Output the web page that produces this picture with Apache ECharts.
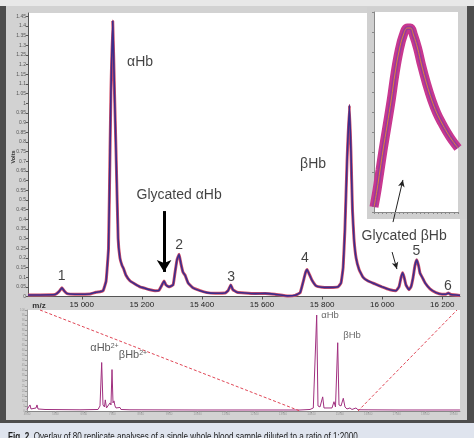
<!DOCTYPE html>
<html><head><meta charset="utf-8">
<script src="https://cdn.jsdelivr.net/npm/echarts@6/dist/echarts.min.js"></script>
<style>html,body{margin:0;padding:0;background:#fff}#c{width:474px;height:438px}</style>
</head><body><div id="c"></div>
<script>
// ---- main (zoomed) spectrum: m/z vs Volts ----
const mainMz = [14821,14861,14911,14924,14934,14941,14951,14977,15027,15047,15061,15071,15081,15089,15094,15097,15103,15109,15114,15121,15127,15134,15139,15147,15161,15177,15194,15211,15227,15244,15257,15267,15274,15280,15290,15304,15310,15317,15324,15330,15337,15344,15354,15370,15394,15417,15444,15477,15487,15496,15503,15517,15543,15577,15610,15643,15687,15710,15727,15736,15745,15750,15756,15766,15780,15800,15826,15853,15863,15870,15876,15883,15891,15896,15901,15906,15913,15923,15936,15953,15976,15999,16026,16046,16056,16063,16068,16073,16079,16089,16096,16103,16109,16115,16121,16126,16133,16143,16159,16179,16199,16213,16220,16229,16259];
const mainVolts = [0.008,0.008,0.01,0.025,0.045,0.03,0.015,0.012,0.013,0.022,0.025,0.03,0.08,0.25,0.75,1.05,1.425,1.05,0.75,0.3,0.2,0.16,0.145,0.11,0.08,0.065,0.05,0.042,0.035,0.03,0.032,0.06,0.08,0.06,0.05,0.06,0.12,0.19,0.218,0.17,0.125,0.11,0.07,0.045,0.03,0.02,0.017,0.018,0.03,0.06,0.035,0.022,0.018,0.015,0.016,0.012,0.003,0.006,0.02,0.07,0.125,0.14,0.12,0.085,0.055,0.048,0.047,0.05,0.07,0.15,0.35,0.7,0.99,0.75,0.45,0.3,0.2,0.14,0.1,0.08,0.065,0.05,0.035,0.03,0.05,0.1,0.123,0.1,0.06,0.035,0.05,0.1,0.16,0.19,0.16,0.12,0.1,0.07,0.04,0.02,0.012,0.012,0.018,0.01,0.005];
const mainTicks = [15000,15200,15400,15600,15800,16000,16200];

// ---- full-range spectrum (bottom panel) ----
const fullMz = [4940,5010,5045,5081,5151,5256,5292,5327,5573,6803,7436,7507,7566,7612,7665,7693,7735,7788,7858,7893,7929,7964,7999,8034,8069,8210,8245,8561,11023,14539,14891,15007,15066,15126,15171,15242,15337,15383,15453,15524,15594,15664,15734,15787,15865,15910,15981,16061,16121,16191,16296,16367,16507,16578,18055,20164];
const fullInt = [1.5,3,6,2,2,3,6,2,1.5,1.2,1.5,5,48,6,4,11,3,2,8,6,41,8,10,5,3,3.5,1.5,1.2,1,1,1.5,3,2,95,5,4,14,3,2,3,2,3,9.2,4,67.6,6,5,12.6,4,2,3,1.5,3,1.2,1,1];

// ---- inset: glycated βHb peak overlay ----
const insetX = [0,3.6,7.2,10.8,15.7,20.5,25.3,30.1,34.9,39.8,43.4,47,51.8,56.6,62.7,68.7,74.7,80.7,86.7,92.8,100];
const insetY = [2.5,11,21,31,43.5,56,70,81,88.5,92,92,88.5,82,73.5,64,56,49.5,44.5,40,36,32];

// ---- annotations ----
const mainLabelText = ['αHb','Glycated αHb','1','2','3','4','βHb','Glycated βHb','5','6'];
const mainLabelMz   = [15194,15324,14933,15324,15497,15743,15770,16073,16114,16219];
const mainLabelV    = [1.213,0.525,0.106,0.266,0.10,0.2,0.685,0.313,0.235,0.054];
const bottomLabelText = ['{b|αHb}{s|2+}','{b|βHb}{s|2+}','{c|αHb}','{c|βHb}'];
const bottomLabelMz   = [7665,8667,15593,16367];
const bottomLabelInt  = [62.4,55.4,95,75.2];
const captionBold = 'Fig. 2';
const captionText = '  Overlay of 80 replicate analyses of a single whole blood sample diluted to a ratio of 1:2000.';

const zip = (a,b)=>a.map((v,i)=>[v,b[i]]);
const chart = echarts.init(document.getElementById('c'));

// fit caption (condensed look) to its width in the reference
const cv = document.createElement('canvas').getContext('2d');
cv.font = 'bold 11px "Liberation Sans"';
let capW = cv.measureText(captionBold).width;
cv.font = '11px "Liberation Sans"';
capW += cv.measureText(captionText).width;
const capScale = 352 / capW;

const option = {
  animation:false,
  backgroundColor:'#e8e8e8',
  graphic:[
    {type:'rect', z:0, z2:1, shape:{x:0,y:0,width:474,height:423}, style:{fill:'#4d4d4d'}},
    {type:'rect', z:0, z2:2, shape:{x:0,y:0,width:474,height:6}, style:{fill:'#e8e8e8'}},
    {type:'rect', z:0, z2:3, shape:{x:6,y:6,width:461,height:414}, style:{fill:'#d2d2d2'}},
    {type:'rect', z:0, z2:4, shape:{x:0,y:423,width:474,height:15}, style:{fill:'#dfe4ee'}},
    {type:'rect', z:1, shape:{x:28,y:13,width:432,height:283.5}, style:{fill:'#ffffff'}},
    {type:'rect', z:1, shape:{x:27,y:310,width:433,height:101}, style:{fill:'#ffffff'}},
    {type:'rect', z:4, shape:{x:367,y:7,width:100,height:212}, style:{fill:'#d0d0d0'}},
    {type:'rect', z:5, shape:{x:374,y:12,width:84,height:200}, style:{fill:'#ffffff'}},
    {type:'text', z:2, x:13, y:157, rotation:Math.PI/2, style:{text:'Volts', fontSize:5.5, fontWeight:'bold', fill:'#333', align:'center', verticalAlign:'middle', fontFamily:'Liberation Sans'}},
    {type:'text', z:2, x:39, y:306, style:{text:'m/z', fontSize:8, fontWeight:'bold', fill:'#333', align:'center', verticalAlign:'middle', fontFamily:'Liberation Sans'}},
    {type:'text', z:2, x:8, y:431, scaleX:capScale, style:{text:'{b|'+captionBold+'}'+captionText, fontSize:11, fill:'#1b1b1b', fontFamily:'Liberation Sans', verticalAlign:'top', rich:{b:{fontSize:11, fontWeight:'bold', fontFamily:'Liberation Sans', fill:'#1b1b1b'}}}}
  ],
  grid:[
    {left:28, top:13, width:432, height:283.5, show:false},
    {left:374, top:12, width:84, height:200, show:false},
    {left:27, top:310, width:433, height:101, show:false}
  ],
  xAxis:[
    {gridIndex:0, type:'value', min:14821, max:16259, z:2,
     axisLine:{lineStyle:{color:'#555'}},
     axisTick:{show:true, customValues:mainTicks, length:3, lineStyle:{color:'#555'}},
     axisLabel:{customValues:mainTicks, fontSize:8, color:'#222', margin:4, fontFamily:'Liberation Sans',
       formatter:v=>String(v).replace(/^(\d{2})(\d{3})$/,'$1 $2')},
     splitLine:{show:false}},
    {gridIndex:1, type:'value', min:0, max:100, interval:5, z:6,
     axisLine:{lineStyle:{color:'#888'}},
     axisTick:{show:true, length:2, lineStyle:{color:'#888'}},
     axisLabel:{show:false}, splitLine:{show:false}},
    {gridIndex:2, type:'value', min:4940, max:20165, interval:1000, z:2,
     axisLine:{lineStyle:{color:'#888'}},
     axisTick:{show:true, length:2, lineStyle:{color:'#999'}},
     axisLabel:{show:true, fontSize:3, color:'#999', margin:2, formatter:v=>Math.round(v)},
     splitLine:{show:false}}
  ],
  yAxis:[
    {gridIndex:0, type:'value', min:0, max:1.4667, interval:0.05, z:2,
     axisLine:{show:true, lineStyle:{color:'#555'}},
     axisTick:{show:true, length:2, lineStyle:{color:'#555'}},
     axisLabel:{fontSize:5, color:'#555', margin:2, showMaxLabel:false, fontFamily:'Liberation Sans'},
     splitLine:{show:false}},
    {gridIndex:1, type:'value', min:0, max:100, interval:10, z:6,
     axisLine:{show:true, lineStyle:{color:'#888'}},
     axisTick:{show:true, length:2, lineStyle:{color:'#888'}},
     axisLabel:{show:false}, splitLine:{show:false}},
    {gridIndex:2, type:'value', min:0, max:100, interval:5, z:2,
     axisLine:{show:true, lineStyle:{color:'#999'}},
     axisTick:{show:true, length:2, lineStyle:{color:'#999'}},
     axisLabel:{fontSize:3, color:'#999', margin:2},
     splitLine:{show:false}}
  ],
  series:[
    {type:'line', xAxisIndex:0, yAxisIndex:0, z:3, data:zip(mainMz,mainVolts), showSymbol:false, smooth:0.1,
     lineStyle:{color:'#d0506a', width:3}, silent:true},
    {type:'line', xAxisIndex:0, yAxisIndex:0, z:3, data:zip(mainMz,mainVolts), showSymbol:false, smooth:0.1,
     lineStyle:{color:'#3c2d8c', width:1.6}, silent:true},
    {type:'line', xAxisIndex:2, yAxisIndex:2, z:3, data:zip(fullMz,fullInt), showSymbol:false,
     lineStyle:{color:'#a0307f', width:1}, silent:true},
    {type:'line', xAxisIndex:1, yAxisIndex:1, z:7, data:zip(insetX,insetY), showSymbol:false, smooth:0.4,
     lineStyle:{color:'#c8378f', width:9}, silent:true},
    {type:'line', xAxisIndex:1, yAxisIndex:1, z:7, data:zip(insetX,insetY), showSymbol:false, smooth:0.4,
     lineStyle:{color:'#7a3aa4', width:4, opacity:0.6}, silent:true},
    {type:'line', xAxisIndex:1, yAxisIndex:1, z:7, data:zip(insetX,insetY), showSymbol:false, smooth:0.4,
     lineStyle:{color:'#e0803a', width:1}, silent:true},
    {type:'scatter', xAxisIndex:0, yAxisIndex:0, z:8, symbolSize:0, silent:true,
     data:mainLabelText.map((t,i)=>({name:t, value:[mainLabelMz[i],mainLabelV[i]]})),
     label:{show:true, position:'inside', formatter:'{b}', fontSize:14, color:'#111', fontFamily:'Liberation Sans'},
     markLine:{silent:true, symbol:['none','arrow'], label:{show:false}, emphasis:{disabled:true}, animation:false,
       data:[
         [{coord:[15274,0.442], lineStyle:{color:'#000', width:3, type:'solid'}}, {coord:[15274,0.127], symbolSize:[11,12]}],
         [{coord:[16033,0.23], lineStyle:{color:'#222', width:1, type:'solid'}}, {coord:[16049,0.142], symbolSize:[5,7]}],
         [{coord:[16036,0.385], lineStyle:{color:'#222', width:1, type:'solid'}}, {coord:[16069,0.603], symbolSize:[5,7]}]
       ]}},
    {type:'scatter', xAxisIndex:2, yAxisIndex:2, z:8, symbolSize:0, silent:true,
     data:bottomLabelText.map((t,i)=>({name:t, value:[bottomLabelMz[i],bottomLabelInt[i]]})),
     label:{show:true, position:'inside', formatter:'{b}', color:'#333',
       rich:{b:{fontSize:11, color:'#333', fontFamily:'Liberation Sans'}, s:{fontSize:7, color:'#333', verticalAlign:'top', fontFamily:'Liberation Sans'}, c:{fontSize:9.5, color:'#444', fontFamily:'Liberation Sans'}}},
     markLine:{silent:true, symbol:['none','none'], label:{show:false}, emphasis:{disabled:true}, animation:false,
       lineStyle:{color:'#e04656', width:1, type:[3,2]},
       data:[
         [{coord:[5397,100]}, {coord:[14539,0]}],
         [{coord:[16578,0]}, {coord:[20060,100]}]
       ]}}
  ]
};
chart.setOption(option);
</script>
</body></html>
